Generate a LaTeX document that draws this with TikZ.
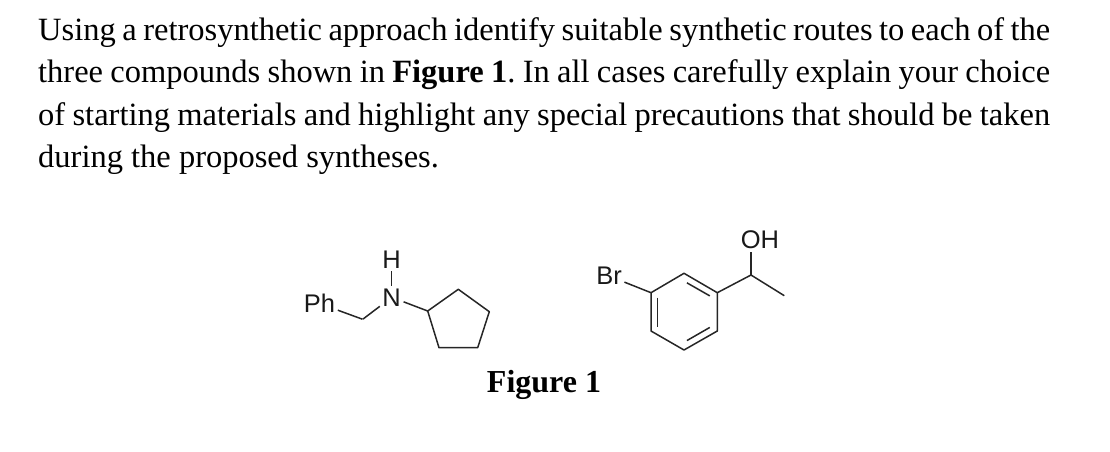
\documentclass[tikz,border=0pt]{standalone}
\usepackage{fontspec}
\setmainfont{Liberation Serif}
\setsansfont{Liberation Sans}
\usetikzlibrary{calc}

\begin{document}
\begin{tikzpicture}[-, x=1pt, y=-1pt, bond/.style={line width=1.5pt, black!85}, pt node/.style={inner sep=0pt, minimum size=0pt}, atom/.style={font=\sffamily\fontsize{25.5}{26}\selectfont, inner sep=2.5pt, text=black!90}, para/.style={inner sep=0pt, anchor=north west, text width=1012pt, align=justify, font=\frenchspacing\fontsize{32.5}{42.4}\selectfont}, caption/.style={inner sep=0pt, font=\bfseries\fontsize{32}{34}\selectfont}]
\useasboundingbox (0,0) rectangle (1110,452);
\node[para] (question) at (38,17.5) {Using a retrosynthetic approach identify suitable synthetic routes to each of the three compounds shown in \textbf{Figure 1}. In all cases carefully explain your choice of starting materials and highlight any special precautions that should be taken during the proposed syntheses.};
\node[caption] (figure) at (544,385) {Figure 1};
% amine
\node[atom] (Ph) at (319.5,303.5) {Ph};
\node[atom] (N) at (391.7,297.3) {N};
\node[atom] (H) at (391.7,259.3) {H};
\node[pt node] (ch2) at (362.7,319.3) {};
\node[pt node] (a1) at (427.7,311) {};
\node[pt node] (a2) at (458.3,289.3) {};
\node[pt node] (a3) at (489.3,311.7) {};
\node[pt node] (a4) at (477.7,347.7) {};
\node[pt node] (a5) at (439,347.7) {};
\path[bond]
(Ph) edge (ch2)
(ch2) edge (N)
(N) edge (H)
(N) edge (a1);
\draw[bond, line join=round] (a1.center) -- (a2.center) -- (a3.center) -- (a4.center) -- (a5.center) -- cycle;
% bromo alcohol
\node[atom] (Br) at (609,276) {Br};
\node[atom] (OH) at (760,239.3) {OH};
\node[pt node] (r1) at (651,292.7) {};
\node[pt node] (r2) at (684,273.3) {};
\node[pt node] (r3) at (717.3,292.7) {};
\node[pt node] (r4) at (717.3,331) {};
\node[pt node] (r5) at (684,350) {};
\node[pt node] (r6) at (651,331) {};
\node[pt node] (ch) at (751,275) {};
\node[pt node] (me) at (784.3,295.7) {};
\node[pt node] (i1) at (686.7,282.7) {};
\node[pt node] (i2) at (710,296) {};
\node[pt node] (i3) at (657.7,297.3) {};
\node[pt node] (i4) at (657.7,326.7) {};
\node[pt node] (i5) at (686.7,340.7) {};
\node[pt node] (i6) at (710,327.3) {};
\coordinate (oh end) at (751,252.3);
\draw[bond, line join=round] (r1.center) -- (r2.center) -- (r3.center) -- (r4.center) -- (r5.center) -- (r6.center) -- cycle;
\draw[bond, line join=round] (r3.center) -- (ch.center) -- (me.center);
\path[bond]
(Br) edge (r1)
(ch) edge (oh end)
(i1) edge (i2)
(i3) edge (i4)
(i5) edge (i6);
\end{tikzpicture}
\end{document}
